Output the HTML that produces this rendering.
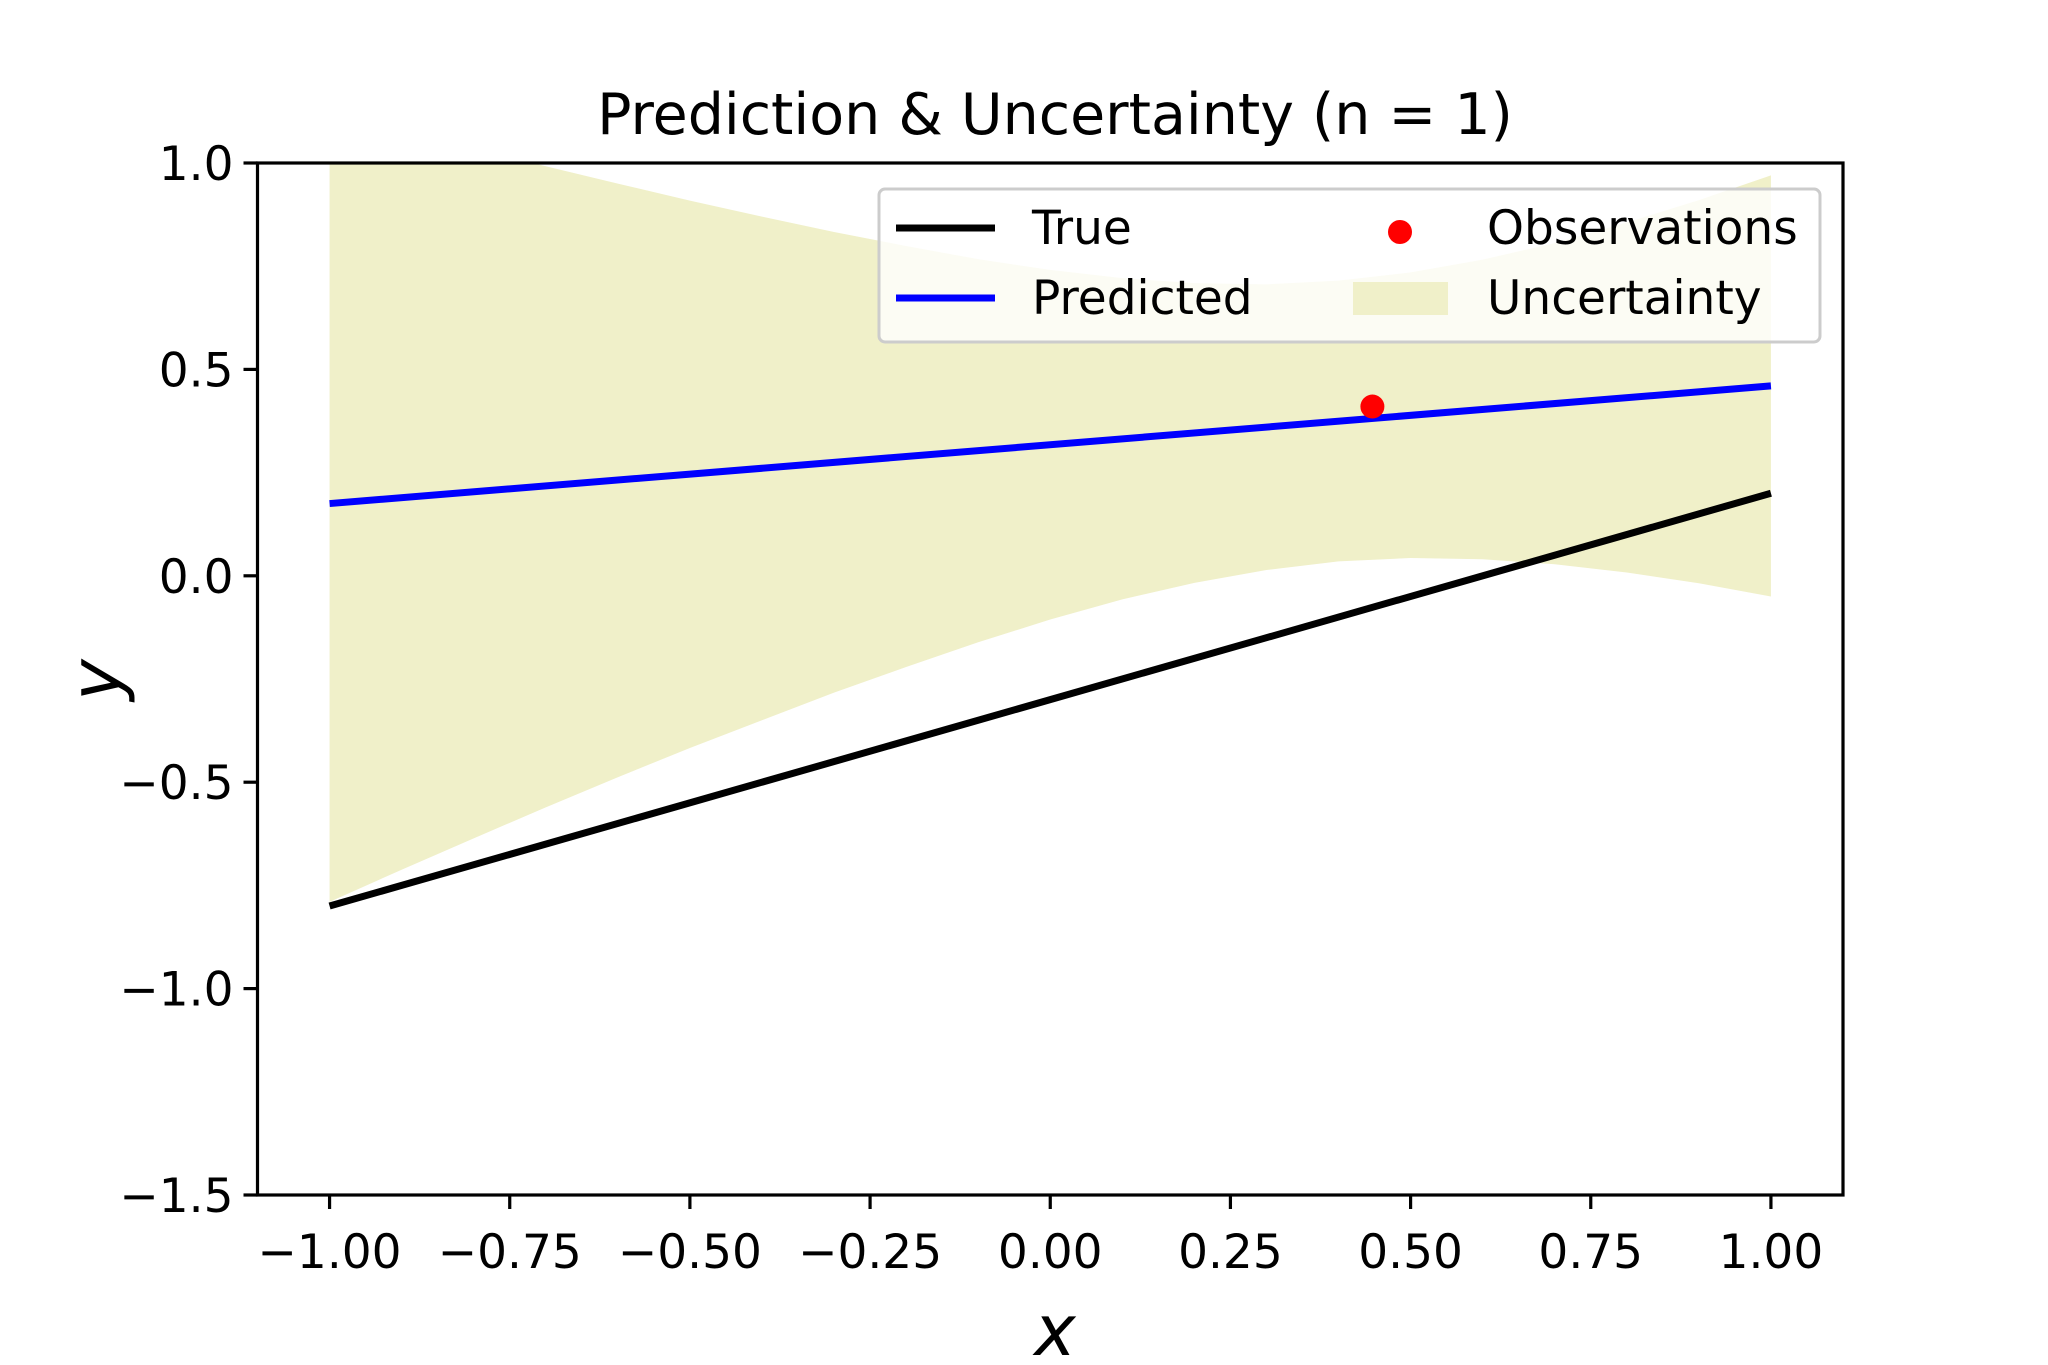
<!DOCTYPE html>
<html><head><meta charset="utf-8"><style>
html,body{margin:0;padding:0;background:#fff;}
svg{display:block;font-family:"DejaVu Sans","Liberation Sans",sans-serif;}
</style></head><body>
<svg id="chart" width="2048" height="1365" viewBox="0 0 2048 1365" xmlns="http://www.w3.org/2000/svg">
<defs><clipPath id="clip"><rect x="257.5" y="163" width="1585.5" height="1032"/></clipPath></defs>
<g id="plot" clip-path="url(#clip)"></g>
<rect x="257.5" y="163" width="1585.5" height="1032" fill="none" stroke="#000" stroke-width="3.2"/>
<g id="ticks"></g>
<text x="1055" y="134" font-size="57" text-anchor="middle">Prediction &amp; Uncertainty (n = 1)</text>
<text x="1055" y="1355" font-size="70" font-style="italic" text-anchor="middle">x</text>
<text transform="translate(120,680) rotate(-90)" font-size="70" font-style="italic" text-anchor="middle">y</text>
<g transform="translate(-12,0)">
<rect x="891" y="189" width="941" height="153" rx="6" fill="#fff" fill-opacity="0.8" stroke="#ccc" stroke-width="3"/>
<line x1="908" y1="228" x2="1007" y2="228" stroke="#000" stroke-width="7"/>
<text x="1044" y="244" font-size="47">True</text>
<line x1="908" y1="298" x2="1007" y2="298" stroke="#0000ff" stroke-width="7"/>
<text x="1044" y="314" font-size="47">Predicted</text>
<circle cx="1412" cy="232" r="12" fill="#ff0000"/>
<text x="1499" y="244" font-size="47">Observations</text>
<rect x="1365" y="282" width="95" height="33" fill="#f0f0c9"/>
<text x="1499" y="314" font-size="47">Uncertainty</text>
</g>
</svg>
<script>
const bandX = [-1,-0.9,-0.8,-0.7,-0.6,-0.5,-0.4,-0.3,-0.2,-0.1,0,0.1,0.2,0.3,0.4,0.5,0.6,0.7,0.8,0.9,1.0];
const bandUpper = [1.123,1.079,1.035,0.992,0.950,0.909,0.870,0.833,0.799,0.767,0.741,0.721,0.709,0.706,0.715,0.735,0.766,0.806,0.856,0.910,0.970];
const bandLower = [-0.79,-0.712,-0.636,-0.561,-0.488,-0.417,-0.350,-0.283,-0.221,-0.161,-0.106,-0.057,-0.017,0.014,0.035,0.043,0.040,0.028,0.008,-0.018,-0.050];
const lineX = [-1, 1];
const trueY = [-0.8, 0.2];
const predY = [0.175, 0.46];
const obsX = [0.447];
const obsY = [0.41];
const xTicks = [-1,-0.75,-0.5,-0.25,0,0.25,0.5,0.75,1];
const xTickLabels = ["−1.00","−0.75","−0.50","−0.25","0.00","0.25","0.50","0.75","1.00"];
const yTicks = [1,0.5,0,-0.5,-1,-1.5];
const yTickLabels = ["1.0","0.5","0.0","−0.5","−1.0","−1.5"];

const L=257.5,R=1843,T=163,B=1195,xmin=-1.1,xmax=1.1,ymin=-1.5,ymax=1.0;
const sx=x=>L+(x-xmin)/(xmax-xmin)*(R-L);
const sy=y=>B-(y-ymin)/(ymax-ymin)*(B-T);
const NS="http://www.w3.org/2000/svg";
const plot=document.getElementById('plot'), ticks=document.getElementById('ticks');
function mk(tag,attrs,parent){const e=document.createElementNS(NS,tag);for(const k in attrs)e.setAttribute(k,attrs[k]);parent.appendChild(e);return e;}

let d=bandX.map((x,i)=>(i?'L':'M')+sx(x)+','+sy(bandUpper[i])).join(' ');
for(let i=bandX.length-1;i>=0;i--) d+=' L'+sx(bandX[i])+','+sy(bandLower[i]);
const band=mk('path',{d:d+' Z',fill:'#f0f0c9',stroke:'none'},plot);



const tl=mk('polyline',{points:lineX.map((x,i)=>sx(x)+','+sy(trueY[i])).join(' '),fill:'none',stroke:'#000','stroke-width':7},plot);


const pl=mk('polyline',{points:lineX.map((x,i)=>sx(x)+','+sy(predY[i])).join(' '),fill:'none',stroke:'#0000ff','stroke-width':7},plot);


obsX.forEach((x,i)=>{
  const c=mk('circle',{cx:sx(x),cy:sy(obsY[i]),r:12,fill:'#ff0000'},plot);
  
  
});

xTicks.forEach((v,i)=>{
  const t=mk('line',{x1:sx(v),x2:sx(v),y1:B,y2:B+14,stroke:'#000','stroke-width':3.2},ticks);
  
  
  const tx=mk('text',{x:sx(v),y:1268,'font-size':47,'text-anchor':'middle'},ticks);
  tx.textContent=xTickLabels[i];
  
  
});
yTicks.forEach((v,i)=>{
  const t=mk('line',{x1:L-14,x2:L,y1:sy(v),y2:sy(v),stroke:'#000','stroke-width':3.2},ticks);
  
  
  const tx=mk('text',{x:L-24,y:sy(v)+17,'font-size':47,'text-anchor':'end'},ticks);
  tx.textContent=yTickLabels[i];
  
  
});
</script>
</body></html>
